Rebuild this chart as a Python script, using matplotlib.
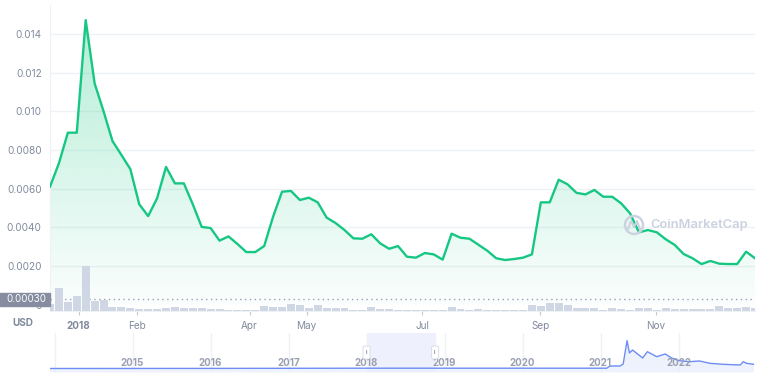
import matplotlib
matplotlib.use("Agg")
import matplotlib.pyplot as plt
import matplotlib.dates as mdates
from matplotlib.colors import to_rgb
from matplotlib.patches import Rectangle, Ellipse, FancyBboxPatch
from matplotlib.lines import Line2D
import numpy as np
import pandas as pd

plt.rcParams["font.family"] = ["Inter", "DejaVu Sans"]

# harga (USD), satu titik tiap ~4.7 hari
start_date = "2017-12-17"
end_date = "2018-12-23"
price = [
    0.0061, 0.00731, 0.00889, 0.00889, 0.01471, 0.01144, 0.0100, 0.00846,
    0.00774, 0.00701, 0.00519, 0.00458, 0.00550, 0.00712, 0.00627, 0.00627,
    0.00519, 0.00402, 0.00396, 0.00331, 0.00353, 0.00314, 0.00272, 0.00272,
    0.00303, 0.00455, 0.00584, 0.00588, 0.00541, 0.00553, 0.00529, 0.00450,
    0.00422, 0.00386, 0.00343, 0.00341, 0.00364, 0.00317, 0.00289, 0.00303,
    0.00248, 0.00243, 0.00267, 0.00260, 0.00233, 0.00367, 0.00346, 0.00341,
    0.00310, 0.00279, 0.00240, 0.00231, 0.00236, 0.00243, 0.00260, 0.00529,
    0.00529, 0.00646, 0.00622, 0.00578, 0.00570, 0.00593, 0.00558, 0.00558,
    0.00524, 0.00472, 0.00374, 0.00386, 0.00374, 0.00338, 0.00309, 0.00262,
    0.00240, 0.00210, 0.00226, 0.00212, 0.00210, 0.00210, 0.00274, 0.00240,
]
# volume relatif
volume = [
    6.7, 23, 8.7, 14.7, 45.3, 9.7, 11.3, 4.3, 3.7, 3, 2.3, 2, 2.3, 3, 3.7, 2.7,
    2.7, 2.7, 1.7, 1.7, 1, 1, 1, 0.8, 4.7, 4, 4, 6.7, 6, 2.7, 5.7, 2.7,
    2.7, 2.7, 1.3, 1.3, 3.7, 1.7, 1.7, 1, 1.3, 1.3, 0.7, 1.3, 1.3, 4.3, 2, 0.7,
    1.7, 1.3, 1.3, 1, 0.7, 1, 5.7, 5, 7.7, 7.7, 6, 2.7, 2.7, 2.7, 1.3, 3.3,
    2.3, 1.3, 2.7, 2.7, 1.3, 3.3, 2, 2, 2, 2, 2, 4.7, 3.3, 2.7, 4, 3.3,
]
tick_dates = ["2018-01-01", "2018-02-01", "2018-04-01", "2018-05-01",
              "2018-07-01", "2018-09-01", "2018-11-01"]
tick_labels = ["2018", "Feb", "Apr", "May", "Jul", "Sep", "Nov"]
y_ticks = [0, 0.002, 0.004, 0.006, 0.008, 0.010, 0.012, 0.014]
y_labels = ["0", "0.0020", "0.0040", "0.0060", "0.0080", "0.010", "0.012", "0.014"]
current_price = 0.0003
current_label = "0.00030"

# navigator (seluruh riwayat)
nav_years = [2013.94, 2016.0, 2018.0, 2020.0, 2021.08, 2021.12, 2021.25, 2021.29,
             2021.34, 2021.37, 2021.41, 2021.54, 2021.60, 2021.72, 2021.83,
             2021.91, 2022.01, 2022.14, 2022.27, 2022.40, 2022.57, 2022.79,
             2022.83, 2022.87, 2022.96]
nav_price = [1.5, 1.6, 1.8, 1.8, 1.8, 4, 4, 6, 29.3, 17, 20, 12, 18.3, 13.3,
             16, 12, 9.3, 8.3, 9, 6.7, 5.7, 5, 8.3, 6.7, 5.7]
nav_year_ticks = [2015, 2016, 2017, 2018, 2019, 2020, 2021, 2022]
nav_range = (2018.0, 2018.88)

green = "#16c784"
grid_c = "#eff2f5"
label_c = "#808a9d"
W, H = 768, 381

dates = pd.date_range(start_date, end_date, periods=len(price))
xnum = mdates.date2num(dates)

fig = plt.figure(figsize=(W / 100, H / 100), dpi=100)
ax = fig.add_axes([50 / W, 1 - 311 / H, 705 / W, 306 / H])

# gradasi hijau di bawah garis
img = np.zeros((256, 1, 4))
img[..., :3] = to_rgb(green)
img[..., 3] = np.linspace(0.32, 0.02, 256)[:, None]
im = ax.imshow(img, extent=[xnum[0], xnum[-1], 0, max(price)], aspect="auto",
               origin="upper", zorder=1)
poly = ax.fill_between(xnum, price, 0, color="none", lw=0)
im.set_clip_path(poly.get_paths()[0], transform=ax.transData)
ax.plot(xnum, price, color=green, lw=1.7, zorder=3, solid_joinstyle="round")

ax.axhline(current_price, color="#9aa1b2", lw=1, ls=(0, (1, 2.5)), zorder=4)

ax.set_xlim(xnum[0], xnum[-1])
ax.set_ylim(-0.000326, 0.01549)
ax.set_yticks(y_ticks)
ax.set_yticklabels(y_labels)
for y in y_ticks[1:]:
    ax.axhline(y, color=grid_c, lw=1, zorder=0)
ax.set_xticks(mdates.date2num(pd.to_datetime(tick_dates)))
ax.set_xticklabels(tick_labels)
ax.tick_params(axis="y", length=0, pad=6, labelsize=7.2, labelcolor=label_c)
ax.tick_params(axis="x", length=3, width=0.8, color="#c3c8d3", pad=4,
               labelsize=7.2, labelcolor=label_c)
ax.get_xticklabels()[0].set_fontweight("bold")
for s in ["top", "right"]:
    ax.spines[s].set_visible(False)
ax.spines["left"].set_color(grid_c)
ax.spines["bottom"].set_color(grid_c)

# volume
axv = ax.twinx()
axv.bar(xnum, volume, width=4.2, color="#cfd6e4", zorder=2)
axv.set_ylim(0, 306)
axv.set_xlim(xnum[0], xnum[-1])
axv.set_yticks([])
for s in axv.spines.values():
    s.set_visible(False)

# label harga sekarang
fig.add_artist(Rectangle((0, 1 - 305.5 / H), 49.5 / W, 12.5 / H,
                         transform=fig.transFigure, color="#868da0", zorder=5))
fig.text(6 / W, 1 - 299.5 / H, current_label, color="white", fontsize=7,
         va="center", ha="left", zorder=6)
fig.text(23 / W, 1 - 323 / H, "USD", color=label_c, fontsize=7.2,
         fontweight="bold", ha="center", va="center")

# watermark
wm = "#cdd2e0"
fig.add_artist(Ellipse((634 / W, 1 - 225 / H), 18 / W, 18 / H, fill=False,
                       ec=wm, lw=1.8, transform=fig.transFigure, zorder=5))
fig.add_artist(Line2D(np.array([628, 631, 634, 637, 640]) / W,
                      1 - np.array([229, 221, 227, 221, 229]) / H, color=wm,
                      lw=1.5, transform=fig.transFigure, zorder=5))
fig.text(650 / W, 1 - 225 / H, "CoinMarketCap", color=wm, fontsize=9.3,
         fontweight="semibold", ha="left", va="center", zorder=5)

# navigator
axn = fig.add_axes([50 / W, 1 - 372 / H, 705 / W, 39 / H])
axn.set_xlim(2013.942, 2022.98)
axn.set_ylim(-2, 37)
axn.axvspan(nav_range[0], nav_range[1], color="#eef1fd", zorder=0)
for yr in [2014] + nav_year_ticks:
    axn.axvline(yr, color=grid_c, lw=1, zorder=1)
axn.fill_between(nav_years, nav_price, -2, color="#e8edfd", alpha=0.7, lw=0, zorder=2)
axn.plot(nav_years, nav_price, color="#6d8cf5", lw=1, zorder=3)
for yr in nav_year_ticks:
    axn.text(yr, 0.23, str(yr), transform=axn.get_xaxis_transform(),
             ha="center", va="center", fontsize=7, fontweight="bold",
             color="#9aa0b1", zorder=4)
axn.set_xticks([])
axn.set_yticks([])
for s in axn.spines.values():
    s.set_visible(False)
for hx in nav_range:
    axn.add_patch(FancyBboxPatch((hx - 0.045, 11), 0.09, 13,
                                 boxstyle="round,pad=0,rounding_size=0.03",
                                 fc="white", ec="#d5d9e3", lw=0.6, zorder=5,
                                 mutation_aspect=40))
    axn.text(hx, 17.5, "ll", ha="center", va="center", fontsize=4,
             color="#9aa0b1", zorder=6)

fig.savefig("out.png", dpi=100, facecolor="white")
